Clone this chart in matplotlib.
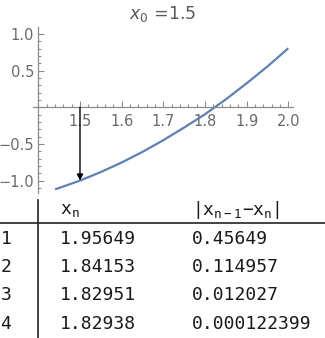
import matplotlib
matplotlib.use("Agg")
import matplotlib.pyplot as plt
from matplotlib.ticker import FixedLocator, MultipleLocator

# curve
curve_x = [1.44, 1.45, 1.50, 1.55, 1.60, 1.65, 1.70, 1.75, 1.80, 1.85, 1.90, 1.95, 2.00]
curve_y = [-1.12, -1.10, -1.00, -0.883, -0.753, -0.608, -0.449, -0.276, -0.095, 0.108, 0.327, 0.557, 0.805]

x0 = 1.5
f_x0 = -1.0

# table
rows = ["1", "2", "3", "4"]
xn = ["1.95649", "1.84153", "1.82951", "1.82938"]
diffs = ["0.45649", "0.114957", "0.012027", "0.000122399"]

W, H = 325, 338
fig = plt.figure(figsize=(W / 100, H / 100), dpi=100)

axis_col = '#8c8c8c'
lab_col = '#6a6a6a'

ax = fig.add_axes([33 / W, (H - 193) / H, 260.3 / W, 166 / H])
ax.plot(curve_x, curve_y, color='#5e81b5', lw=1.6, solid_capstyle='butt')
ax.annotate('', xy=(x0, f_x0), xytext=(x0, 0),
            arrowprops=dict(arrowstyle='-|>', color='black', lw=1.0,
                            mutation_scale=9, shrinkA=0, shrinkB=0))
ax.set_xlim(1.3872, 2.012)
ax.set_ylim(-1.169, 1.095)

for s in ['top', 'right']:
  ax.spines[s].set_visible(False)
ax.spines['left'].set_position(('data', 1.4))
ax.spines['bottom'].set_position(('data', 0))
for s in ['left', 'bottom']:
  ax.spines[s].set_color(axis_col)
  ax.spines[s].set_linewidth(0.9)

ax.xaxis.set_major_locator(FixedLocator([1.5, 1.6, 1.7, 1.8, 1.9, 2.0]))
ax.xaxis.set_minor_locator(MultipleLocator(0.02))
ax.set_xticklabels(['1.5', '1.6', '1.7', '1.8', '1.9', '2.0'])
ax.yaxis.set_major_locator(FixedLocator([-1.0, -0.5, 0.5, 1.0]))
ax.yaxis.set_minor_locator(MultipleLocator(0.1))
ax.set_yticklabels(['\u22121.0', '\u22120.5', '0.5', '1.0'])

ax.tick_params(which='both', direction='in', color=axis_col, width=0.8)
ax.tick_params(which='major', length=4)
ax.tick_params(which='minor', length=2)
ax.tick_params(axis='x', which='major', pad=5, labelsize=10.5, labelcolor=lab_col)
ax.tick_params(axis='y', which='major', pad=3, labelsize=10.5, labelcolor=lab_col)

fig.text(162.5 / W, 1 - 14 / H, r'$x_0$ =1.5', ha='center', va='center',
         fontsize=12.5, color='#5a5a5a')

# table drawn in pixel coordinates
tb = fig.add_axes([0, 0, 1, 1])
tb.set_xlim(0, W)
tb.set_ylim(H, 0)
tb.axis('off')
tb.patch.set_alpha(0)

tcol = '#1a1a1a'
mono = 'DejaVu Sans Mono'
fs = 13
tb.plot([0, W], [223.3, 223.3], color='#222222', lw=1.2)
tb.plot([37.7, 37.7], [200, H], color='#222222', lw=1.2)

tb.text(60, 210, r'$\mathregular{x_n}$', family=mono, fontsize=fs, color=tcol,
        ha='left', va='center')
tb.text(192, 210, r'$\mathregular{|x_{n-1}{-}x_n|}$', family=mono, fontsize=fs,
        color=tcol, ha='left', va='center')

row_y = [239, 267.5, 295.5, 324]
for i in range(len(rows)):
  tb.text(0.5, row_y[i], rows[i], family=mono, fontsize=fs, color=tcol,
          ha='left', va='center')
  tb.text(60, row_y[i], xn[i], family=mono, fontsize=fs, color=tcol,
          ha='left', va='center')
  tb.text(192, row_y[i], diffs[i], family=mono, fontsize=fs, color=tcol,
          ha='left', va='center')

plt.savefig('out.png', dpi=100)
